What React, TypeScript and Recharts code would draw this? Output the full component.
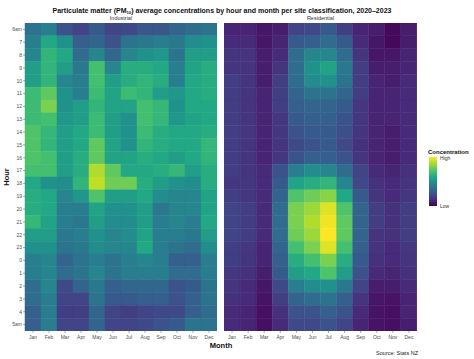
import React from 'react';
import { BarChart, Bar, XAxis, YAxis, Cell } from 'recharts';

const MONTHS = ['Jan', 'Feb', 'Mar', 'Apr', 'May', 'Jun', 'Jul', 'Aug', 'Sep', 'Oct', 'Nov', 'Dec'];
const HOURS = ['6am', '7', '8', '9', '10', '11', '12', '13', '14', '15', '16', '17', '18', '19', '20', '21', '22', '23', '0', '1', '2', '3', '4', '5am'];

// relative concentration (0 = low, 1 = high), one row per hour, Jan..Dec
const industrial = [
  [0.38, 0.42, 0.25, 0.2, 0.28, 0.2, 0.22, 0.27, 0.27, 0.32, 0.35, 0.38],
  [0.42, 0.6, 0.5, 0.3, 0.32, 0.25, 0.38, 0.4, 0.42, 0.4, 0.48, 0.5],
  [0.45, 0.65, 0.6, 0.35, 0.45, 0.33, 0.45, 0.5, 0.52, 0.38, 0.55, 0.55],
  [0.55, 0.65, 0.55, 0.4, 0.7, 0.45, 0.62, 0.62, 0.6, 0.42, 0.58, 0.62],
  [0.55, 0.65, 0.45, 0.42, 0.7, 0.55, 0.62, 0.65, 0.62, 0.42, 0.6, 0.62],
  [0.68, 0.75, 0.5, 0.42, 0.68, 0.58, 0.68, 0.65, 0.55, 0.52, 0.6, 0.62],
  [0.68, 0.8, 0.5, 0.55, 0.65, 0.58, 0.58, 0.7, 0.66, 0.5, 0.6, 0.6],
  [0.68, 0.7, 0.52, 0.55, 0.68, 0.55, 0.5, 0.7, 0.66, 0.52, 0.58, 0.6],
  [0.72, 0.66, 0.55, 0.6, 0.68, 0.55, 0.5, 0.68, 0.62, 0.6, 0.6, 0.62],
  [0.72, 0.65, 0.55, 0.6, 0.75, 0.58, 0.5, 0.65, 0.62, 0.6, 0.6, 0.66],
  [0.72, 0.7, 0.55, 0.62, 0.75, 0.58, 0.58, 0.62, 0.6, 0.55, 0.6, 0.65],
  [0.7, 0.7, 0.55, 0.62, 0.88, 0.75, 0.6, 0.6, 0.62, 0.66, 0.55, 0.62],
  [0.6, 0.5, 0.48, 0.65, 0.9, 0.78, 0.78, 0.62, 0.55, 0.5, 0.48, 0.62],
  [0.62, 0.6, 0.45, 0.52, 0.72, 0.55, 0.55, 0.6, 0.48, 0.45, 0.45, 0.58],
  [0.62, 0.6, 0.42, 0.42, 0.58, 0.5, 0.5, 0.55, 0.4, 0.45, 0.45, 0.58],
  [0.66, 0.58, 0.42, 0.4, 0.55, 0.48, 0.48, 0.55, 0.42, 0.45, 0.42, 0.6],
  [0.55, 0.55, 0.4, 0.42, 0.5, 0.45, 0.48, 0.58, 0.42, 0.42, 0.4, 0.55],
  [0.5, 0.5, 0.38, 0.4, 0.48, 0.45, 0.45, 0.6, 0.42, 0.38, 0.35, 0.48],
  [0.42, 0.45, 0.32, 0.38, 0.42, 0.38, 0.42, 0.45, 0.42, 0.3, 0.3, 0.42],
  [0.42, 0.45, 0.35, 0.38, 0.45, 0.38, 0.42, 0.42, 0.42, 0.35, 0.35, 0.42],
  [0.35, 0.45, 0.22, 0.32, 0.4, 0.3, 0.33, 0.33, 0.33, 0.25, 0.28, 0.38],
  [0.35, 0.42, 0.2, 0.2, 0.38, 0.28, 0.28, 0.3, 0.3, 0.25, 0.3, 0.38],
  [0.3, 0.42, 0.18, 0.18, 0.32, 0.2, 0.18, 0.2, 0.22, 0.22, 0.3, 0.35],
  [0.3, 0.42, 0.2, 0.2, 0.32, 0.2, 0.2, 0.22, 0.25, 0.28, 0.38, 0.38],
];

const residential = [
  [0.1, 0.1, 0.06, 0.08, 0.2, 0.22, 0.28, 0.18, 0.1, 0.08, 0.02, 0.08],
  [0.12, 0.12, 0.06, 0.1, 0.28, 0.3, 0.35, 0.28, 0.12, 0.06, 0.02, 0.08],
  [0.15, 0.15, 0.08, 0.12, 0.35, 0.45, 0.45, 0.35, 0.15, 0.06, 0.06, 0.1],
  [0.15, 0.15, 0.08, 0.15, 0.35, 0.5, 0.58, 0.4, 0.18, 0.08, 0.08, 0.1],
  [0.18, 0.15, 0.08, 0.18, 0.35, 0.48, 0.5, 0.38, 0.18, 0.1, 0.08, 0.12],
  [0.18, 0.15, 0.1, 0.18, 0.32, 0.38, 0.38, 0.32, 0.18, 0.1, 0.1, 0.12],
  [0.18, 0.15, 0.1, 0.18, 0.3, 0.32, 0.32, 0.28, 0.16, 0.1, 0.1, 0.12],
  [0.18, 0.15, 0.1, 0.16, 0.28, 0.3, 0.3, 0.26, 0.16, 0.1, 0.1, 0.12],
  [0.18, 0.16, 0.1, 0.16, 0.25, 0.28, 0.28, 0.24, 0.15, 0.1, 0.08, 0.12],
  [0.18, 0.15, 0.1, 0.15, 0.22, 0.25, 0.28, 0.22, 0.14, 0.1, 0.08, 0.12],
  [0.18, 0.15, 0.1, 0.16, 0.26, 0.3, 0.3, 0.25, 0.15, 0.1, 0.08, 0.12],
  [0.18, 0.15, 0.12, 0.25, 0.42, 0.48, 0.45, 0.35, 0.2, 0.12, 0.1, 0.14],
  [0.16, 0.16, 0.12, 0.28, 0.58, 0.62, 0.65, 0.45, 0.22, 0.14, 0.12, 0.15],
  [0.18, 0.16, 0.12, 0.32, 0.72, 0.78, 0.82, 0.6, 0.28, 0.15, 0.12, 0.16],
  [0.2, 0.18, 0.12, 0.35, 0.8, 0.85, 0.95, 0.72, 0.32, 0.18, 0.14, 0.18],
  [0.2, 0.18, 0.12, 0.35, 0.8, 0.88, 0.98, 0.75, 0.32, 0.18, 0.14, 0.18],
  [0.2, 0.18, 0.12, 0.35, 0.78, 0.85, 1.0, 0.75, 0.32, 0.15, 0.14, 0.18],
  [0.18, 0.16, 0.1, 0.32, 0.7, 0.8, 0.95, 0.7, 0.3, 0.15, 0.12, 0.16],
  [0.18, 0.15, 0.1, 0.3, 0.62, 0.7, 0.8, 0.62, 0.28, 0.14, 0.12, 0.15],
  [0.16, 0.14, 0.08, 0.28, 0.55, 0.6, 0.72, 0.55, 0.25, 0.12, 0.1, 0.14],
  [0.15, 0.12, 0.06, 0.22, 0.42, 0.48, 0.5, 0.4, 0.2, 0.08, 0.08, 0.12],
  [0.14, 0.12, 0.05, 0.18, 0.32, 0.35, 0.38, 0.3, 0.15, 0.06, 0.05, 0.1],
  [0.12, 0.1, 0.04, 0.14, 0.25, 0.25, 0.3, 0.25, 0.12, 0.05, 0.04, 0.1],
  [0.12, 0.1, 0.04, 0.12, 0.22, 0.22, 0.25, 0.2, 0.1, 0.05, 0.04, 0.08],
];

const VIRIDIS = ['#440154', '#482475', '#414487', '#355f8d', '#2a788e', '#21918c', '#22a884', '#44bf70', '#7ad151', '#bddf26', '#fde725'];

const FONT = '"Liberation Sans", Arial, sans-serif';

const hexToRgb = (h: string) => [1, 3, 5].map((i) => parseInt(h.slice(i, i + 2), 16));

const viridis = (v: number) => {
  const t = Math.max(0, Math.min(1, v)) * (VIRIDIS.length - 1);
  const i = Math.min(Math.floor(t), VIRIDIS.length - 2);
  const f = t - i;
  const a = hexToRgb(VIRIDIS[i]);
  const b = hexToRgb(VIRIDIS[i + 1]);
  const c = a.map((x, k) => Math.round(x + (b[k] - x) * f));
  return `rgb(${c[0]},${c[1]},${c[2]})`;
};

// each month is a column of 24 equal stacked blocks, coloured by concentration
const tableRows = MONTHS.map((m) => {
  const row: Record<string, string | number> = { month: m };
  HOURS.forEach((_, hi) => {
    row[`h${hi}`] = 1;
  });
  return row;
});

const tickStyle = { fontSize: 5, fill: '#4d4d4d', fontFamily: FONT };

function Panel({ values, showY, width }: { values: number[][]; showY: boolean; width: number }) {
  return (
    <BarChart
      width={width}
      height={359}
      data={tableRows}
      margin={{ top: 23, right: 0, bottom: 14, left: 0 }}
      barCategoryGap={0}
      barGap={0}
    >
      <XAxis
        dataKey="month"
        height={14}
        tick={tickStyle}
        tickSize={2}
        tickMargin={2}
        axisLine={false}
        tickLine={{ stroke: '#555', strokeWidth: 0.5 }}
        interval={0}
      />
      <YAxis
        type="number"
        domain={[0, 24]}
        reversed
        allowDataOverflow
        hide={!showY}
        width={25}
        ticks={HOURS.map((_, i) => i + 0.5)}
        tickFormatter={(v: number) => HOURS[Math.floor(v)]}
        tick={tickStyle}
        tickSize={2}
        tickMargin={1}
        interval={0}
        axisLine={false}
        tickLine={{ stroke: '#555', strokeWidth: 0.5 }}
      />
      {HOURS.map((_, hi) => (
        <Bar key={hi} dataKey={`h${hi}`} stackId="s" isAnimationActive={false}>
          {MONTHS.map((m, mi) => {
            const c = viridis(values[hi][mi]);
            return <Cell key={m} fill={c} stroke={c} strokeWidth={0.5} />;
          })}
        </Bar>
      ))}
    </BarChart>
  );
}

export default function App() {
  return (
    <div style={{ position: 'absolute', left: 0, top: 0, width: 474, height: 359, background: '#fff', fontFamily: FONT }}>
      <div style={{ position: 'absolute', left: 0, top: 0 }}>
        <Panel values={industrial} showY width={217} />
      </div>
      <div style={{ position: 'absolute', left: 224, top: 0 }}>
        <Panel values={residential} showY={false} width={193} />
      </div>
      <svg width={474} height={359} style={{ position: 'absolute', left: 0, top: 0, pointerEvents: 'none' }}>
        <defs>
          <linearGradient id="vir" x1="0" y1="1" x2="0" y2="0">
            {VIRIDIS.map((c, i) => (
              <stop key={c} offset={`${i * 10}%`} stopColor={c} />
            ))}
          </linearGradient>
        </defs>
        <text x={222} y={12.5} textAnchor="middle" fontSize={7} fontWeight="bold" fill="#111" fontFamily={FONT}>
          Particulate matter (PM<tspan fontSize={4.2} dy={1.5}>10</tspan>
          <tspan dy={-1.5}>) average concentrations by hour and month per site classification, 2020–2023</tspan>
        </text>
        <text x={121} y={20} textAnchor="middle" fontSize={5.5} fill="#333" fontFamily={FONT}>Industrial</text>
        <text x={320.5} y={20} textAnchor="middle" fontSize={5.5} fill="#333" fontFamily={FONT}>Residential</text>
        <text x={221} y={348} textAnchor="middle" fontSize={7.5} fontWeight="bold" fill="#111" fontFamily={FONT}>Month</text>
        <text transform="translate(8.5,177) rotate(-90)" textAnchor="middle" fontSize={7.5} fontWeight="bold" fill="#111" fontFamily={FONT}>Hour</text>
        <text x={418} y={355} textAnchor="end" fontSize={5.5} fill="#222" fontFamily={FONT}>Source: Stats NZ</text>
        <text x={428} y={153.5} fontSize={6} fontWeight="bold" fill="#111" fontFamily={FONT}>Concentration</text>
        <rect x={429} y={157} width={8} height={49} fill="url(#vir)" />
        <text x={440} y={160} fontSize={5} fill="#333" fontFamily={FONT}>High</text>
        <text x={440} y={207.5} fontSize={5} fill="#333" fontFamily={FONT}>Low</text>
      </svg>
    </div>
  );
}
